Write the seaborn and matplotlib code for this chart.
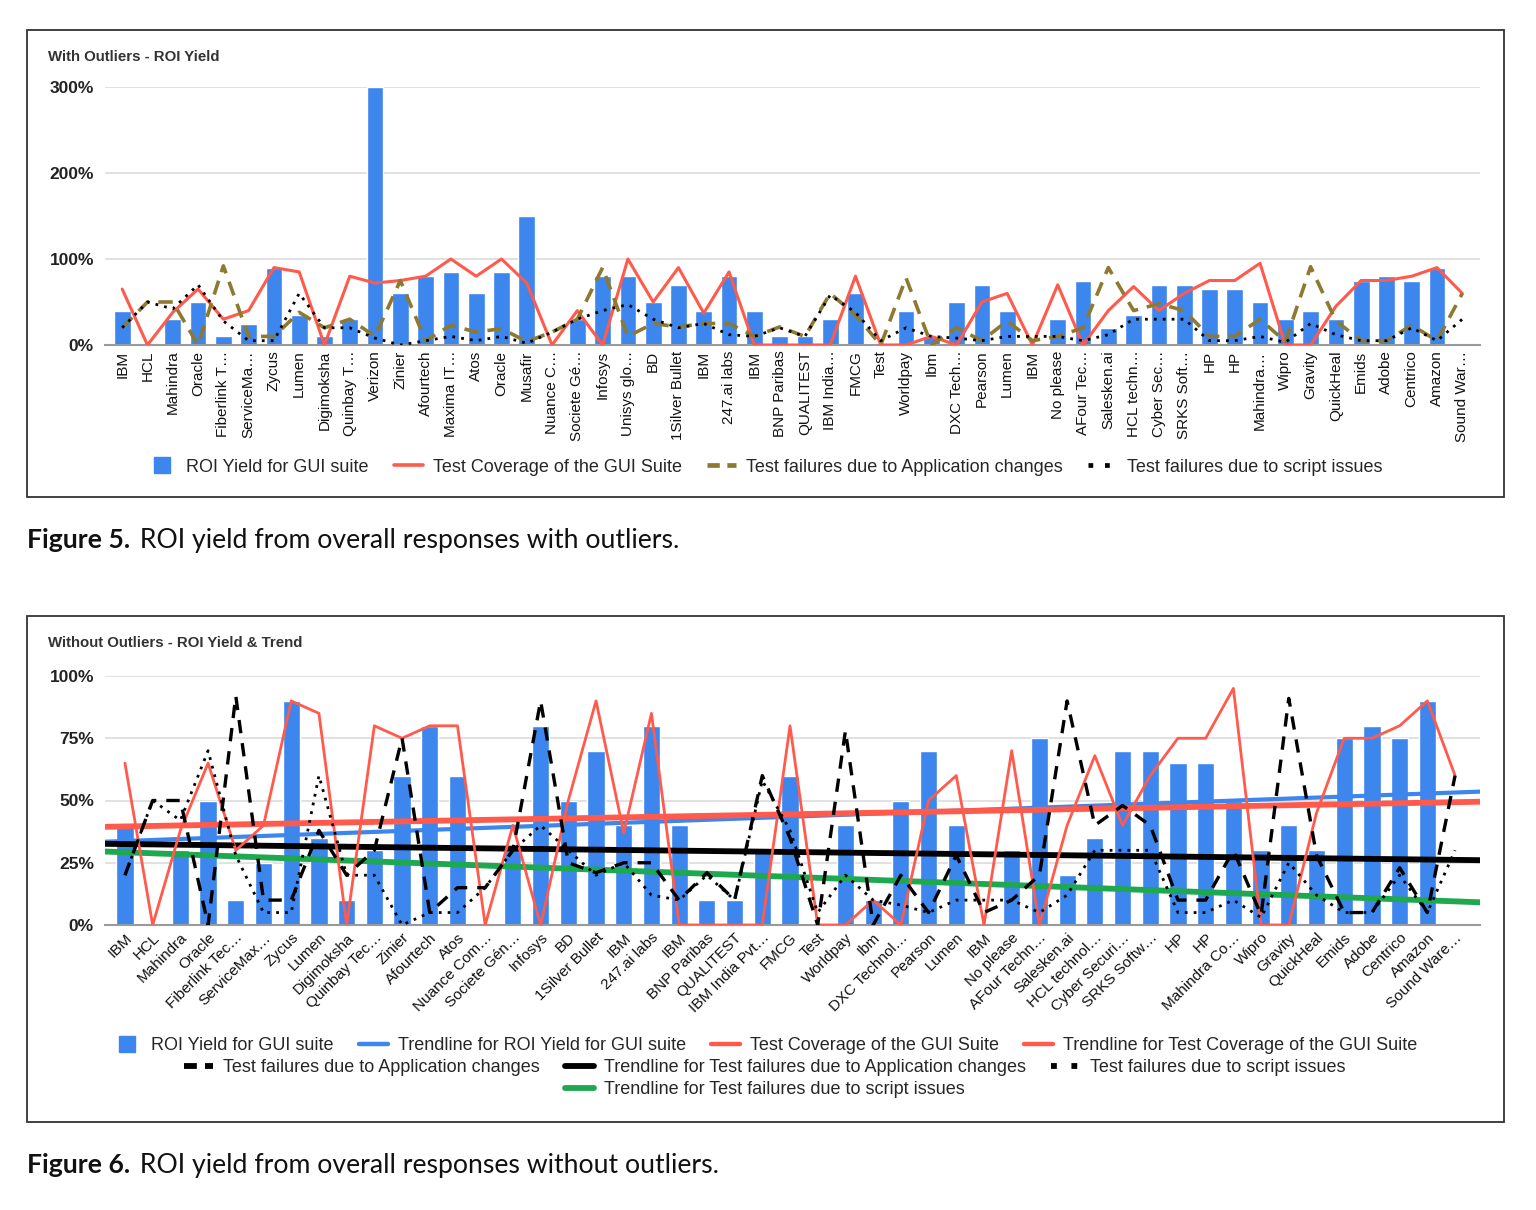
import numpy as np
import pandas as pd
import matplotlib
matplotlib.use("Agg")
import matplotlib.pyplot as plt
import seaborn as sns
from matplotlib.patches import Rectangle
from matplotlib.lines import Line2D

# ---------------- data ----------------
labels_top = ["IBM", "HCL", "Mahindra", "Oracle", "Fiberlink T…", "ServiceMa…", "Zycus", "Lumen",
              "Digimoksha", "Quinbay T…", "Verizon", "Zinier", "Afourtech", "Maxima IT…", "Atos",
              "Oracle", "Musafir", "Nuance C…", "Societe Gé…", "Infosys", "Unisys glo…", "BD",
              "1Silver Bullet", "IBM", "247.ai labs", "IBM", "BNP Paribas", "QUALITEST", "IBM India…",
              "FMCG", "Test", "Worldpay", "Ibm", "DXC Tech…", "Pearson", "Lumen", "IBM", "No please",
              "AFour Tec…", "Salesken.ai", "HCL techn…", "Cyber Sec…", "SRKS Soft…", "HP", "HP",
              "Mahindra…", "Wipro", "Gravity", "QuickHeal", "Emids", "Adobe", "Centrico", "Amazon",
              "Sound War…"]
labels_bottom = ["IBM", "HCL", "Mahindra", "Oracle", "Fiberlink Tec…", "ServiceMax…", "Zycus", "Lumen",
                 "Digimoksha", "Quinbay Tec…", "Zinier", "Afourtech", "Atos", "Nuance Com…",
                 "Societe Gén…", "Infosys", "BD", "1Silver Bullet", "IBM", "247.ai labs", "IBM",
                 "BNP Paribas", "QUALITEST", "IBM India Pvt…", "FMCG", "Test", "Worldpay", "Ibm",
                 "DXC Technol…", "Pearson", "Lumen", "IBM", "No please", "AFour Techn…", "Salesken.ai",
                 "HCL technol…", "Cyber Securi…", "SRKS Softw…", "HP", "HP", "Mahindra Co…", "Wipro",
                 "Gravity", "QuickHeal", "Emids", "Adobe", "Centrico", "Amazon", "Sound Ware…"]

roi = [40, 0, 30, 50, 10, 25, 90, 35, 10, 30, 300, 60, 80, 85, 60, 85, 150, 0, 30, 80, 80, 50,
       70, 40, 80, 40, 10, 10, 30, 60, 0, 40, 10, 50, 70, 40, 0, 30, 75, 20, 35, 70, 70, 65, 65,
       50, 30, 40, 30, 75, 80, 75, 90, 0]
coverage = [65, 0, 38, 65, 30, 40, 90, 85, 0, 80, 72, 75, 80, 100, 80, 100, 72, 0, 40, 0, 100, 50,
            90, 37, 85, 0, 0, 0, 0, 80, 0, 0, 10, 0, 50, 60, 0, 70, 0, 40, 68, 40, 60, 75, 75,
            95, 0, 0, 45, 75, 75, 80, 90, 60]
app_fail = [20, 50, 50, 0, 92, 10, 10, 38, 20, 30, 10, 75, 5, 23, 15, 19, 4, 15, 30, 90, 10, 25,
            21, 25, 25, 10, 21, 10, 60, 35, 0, 78, 0, 20, 5, 28, 5, 10, 20, 90, 40, 48, 40, 10, 10,
            30, 4, 91, 28, 5, 5, 23, 5, 60]
script_fail = [20, 50, 42, 70, 28, 5, 5, 60, 20, 20, 8, 0, 5, 10, 5, 10, 2, 15, 30, 40, 47, 30,
               20, 25, 12, 10, 20, 10, 58, 38, 5, 20, 10, 8, 5, 10, 10, 10, 5, 12, 30, 30, 30, 5, 5,
               10, 3, 25, 12, 5, 5, 20, 5, 30]
outlier_idx = [10, 13, 15, 16, 20]

# ---------------- style ----------------
BLUE = "#3c86ee"
RED = "#ff5a4c"
OLIVE = "#8d7a30"
GREEN = "#1ea84f"
GRID = "#dcdcdc"

sns.set_theme(style="white")
plt.rcParams['font.family'] = ['Liberation Sans', 'DejaVu Sans']

W, H = 1536, 1210
fig = plt.figure(figsize=(W / 100, H / 100), dpi=100)
fig.patch.set_facecolor("white")


def rect(x0, y0, x1, y1):
    return [x0 / W, 1 - y1 / H, (x1 - x0) / W, (y1 - y0) / H]


def fx(x):
    return x / W


def fy(y):
    return 1 - y / H


# panel frames
for (y0, y1) in [(30, 497), (616, 1122)]:
    fig.patches.append(Rectangle((fx(27), fy(y1)), (1504 - 27) / W, (y1 - y0) / H,
                                 transform=fig.transFigure, fill=False, ec="#333333", lw=1.3))


def style_axis(ax, yticks, ylabels):
    ax.set_yticks(yticks)
    ax.set_yticklabels(ylabels, fontsize=12.5, fontweight="bold", color="#222222")
    ax.yaxis.grid(True, color=GRID, lw=1.2)
    ax.set_axisbelow(True)
    for s in ["top", "right", "left"]:
        ax.spines[s].set_visible(False)
    ax.spines["bottom"].set_color("#9a9a9a")
    ax.spines["bottom"].set_linewidth(1.5)
    ax.tick_params(axis="y", length=0, pad=8)
    ax.tick_params(axis="x", length=0, pad=4)
    ax.set_xlabel("")
    ax.set_ylabel("")
    ax.set_facecolor("white")


LEG_KW = dict(frameon=False, fontsize=13, handlelength=1.6, columnspacing=1.4,
              handletextpad=0.55, borderpad=0.1, labelspacing=0.1)

# ---------------- top chart ----------------
df_top = pd.DataFrame({"idx": np.arange(len(roi)), "roi": roi, "coverage": coverage,
                       "app": app_fail, "script": script_fail})

ax1 = fig.add_axes(rect(105, 87, 1480, 345))
sns.barplot(data=df_top, x="idx", y="roi", color=BLUE, saturation=1, width=0.66,
            native_scale=True, ax=ax1, zorder=2)
sns.lineplot(data=df_top, x="idx", y="coverage", color=RED, lw=2.2, ax=ax1, zorder=3)
sns.lineplot(data=df_top, x="idx", y="app", color=OLIVE, lw=2.6, ax=ax1, zorder=3,
             linestyle=(0, (4, 2.5)))
sns.lineplot(data=df_top, x="idx", y="script", color="black", lw=2.0, ax=ax1, zorder=3,
             linestyle=(0, (1, 2.2)))
ax1.set_ylim(0, 300)
ax1.set_xlim(-0.68, len(roi) - 1 + 0.7)
style_axis(ax1, [0, 100, 200, 300], ["0%", "100%", "200%", "300%"])
ax1.set_xticks(np.arange(len(roi)))
ax1.set_xticklabels(labels_top, rotation=90, fontsize=11, color="#111111", ha="center", va="top")
fig.text(fx(48), fy(57), "With Outliers - ROI Yield", fontsize=10.8, fontweight="bold",
         color="#333333", ha="left", va="center")

h_top = [Line2D([], [], marker="s", color=BLUE, ls="none", markersize=12),
         Line2D([], [], color=RED, lw=2.6),
         Line2D([], [], color=OLIVE, lw=3.4, linestyle=(0, (2.6, 1.6))),
         Line2D([], [], color="black", lw=3.4, linestyle=(0, (1, 2.5)))]
l_top = ["ROI Yield for GUI suite", "Test Coverage of the GUI Suite",
         "Test failures due to Application changes", "Test failures due to script issues"]
fig.legend(h_top, l_top, loc="center", bbox_to_anchor=(fx(765), fy(467)), ncol=4, **LEG_KW)

# ---------------- bottom chart ----------------
keep = [i for i in range(len(roi)) if i not in outlier_idx]
df_bot = pd.DataFrame({"idx": np.arange(len(keep)),
                       "roi": [roi[i] for i in keep],
                       "coverage": [coverage[i] for i in keep],
                       "app": [app_fail[i] for i in keep],
                       "script": [script_fail[i] for i in keep]})

ax2 = fig.add_axes(rect(105, 676, 1480, 925))
sns.barplot(data=df_bot, x="idx", y="roi", color=BLUE, saturation=1, width=0.62,
            native_scale=True, ax=ax2, zorder=2)
xlim2 = (-0.72, len(keep) - 1 + 0.9)
ax2.set_xlim(*xlim2)
sns.lineplot(data=df_bot, x="idx", y="coverage", color=RED, lw=2.0, ax=ax2, zorder=4)
sns.lineplot(data=df_bot, x="idx", y="app", color="black", lw=2.4, ax=ax2, zorder=4,
             linestyle=(0, (4, 3)))
sns.lineplot(data=df_bot, x="idx", y="script", color="black", lw=2.0, ax=ax2, zorder=4,
             linestyle=(0, (1, 2.2)))
for col, c, lw in [("roi", BLUE, 3.0), ("coverage", RED, 4.2), ("app", "black", 4.2),
                   ("script", GREEN, 4.2)]:
    sns.regplot(data=df_bot, x="idx", y=col, scatter=False, ci=None, truncate=False, ax=ax2,
                line_kws=dict(color=c, lw=lw, zorder=3))
ax2.set_xlim(*xlim2)
ax2.set_ylim(0, 100)
style_axis(ax2, [0, 25, 50, 75, 100], ["0%", "25%", "50%", "75%", "100%"])
ax2.set_xticks(np.arange(len(keep)))
ax2.set_xticklabels(labels_bottom, rotation=45, fontsize=11, color="#111111", ha="right",
                    va="top", rotation_mode="anchor")
fig.text(fx(48), fy(643), "Without Outliers - ROI Yield & Trend", fontsize=10.8, fontweight="bold",
         color="#333333", ha="left", va="center")

rows = [
    ([Line2D([], [], marker="s", color=BLUE, ls="none", markersize=12),
      Line2D([], [], color=BLUE, lw=3.2),
      Line2D([], [], color=RED, lw=3.2),
      Line2D([], [], color=RED, lw=3.2)],
     ["ROI Yield for GUI suite", "Trendline for ROI Yield for GUI suite",
      "Test Coverage of the GUI Suite", "Trendline for Test Coverage of the GUI Suite"], 1046),
    ([Line2D([], [], color="black", lw=4.2, linestyle=(0, (2.2, 1.4))),
      Line2D([], [], color="black", lw=4.2),
      Line2D([], [], color="black", lw=4.2, linestyle=(0, (1, 2.5)))],
     ["Test failures due to Application changes", "Trendline for Test failures due to Application changes",
      "Test failures due to script issues"], 1068),
    ([Line2D([], [], color=GREEN, lw=4.2)],
     ["Trendline for Test failures due to script issues"], 1090),
]
for hs, ls, yy in rows:
    fig.legend(hs, ls, loc="center", bbox_to_anchor=(fx(765), fy(yy)), ncol=len(hs), **LEG_KW)

# ---------------- captions ----------------
fig.canvas.draw()
renderer = fig.canvas.get_renderer()
for yy, bold, rest in [(540, "Figure 5.", " ROI yield from overall responses with outliers."),
                       (1165, "Figure 6.", " ROI yield from overall responses without outliers.")]:
    t = fig.text(fx(27), fy(yy), bold, fontsize=19.2, fontweight="bold", family=["Lato", "DejaVu Sans"],
                 ha="left", va="center", color="#111111")
    bb = t.get_window_extent(renderer=renderer)
    x_end = bb.x1 / fig.bbox.width + 3 / W
    fig.text(x_end, fy(yy), rest, fontsize=19.2, family=["Lato", "DejaVu Sans"], ha="left",
             va="center", color="#111111")

fig.savefig("out.png", dpi=100, facecolor="white")
